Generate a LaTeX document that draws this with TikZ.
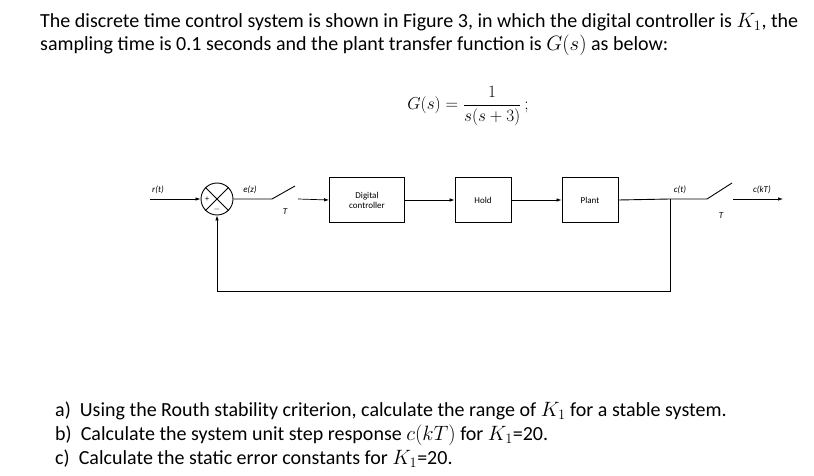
\documentclass[tikz,border=0pt]{standalone}
\usepackage{amsmath}
\usepackage{fontspec}
\setmainfont{Carlito}
\usetikzlibrary{arrows.meta}
\begin{document}
\begin{tikzpicture}[x=1pt,y=-1pt,
  blk/.style={draw,line width=0.9pt,minimum width=#1,minimum height=45pt,inner sep=0pt,font=\fontsize{9}{10}\selectfont,align=center},
  lab/.style={font=\fontsize{9}{10}\selectfont\itshape},
  arr/.style={-{Latex[length=5pt,width=3.5pt]},line width=0.7pt},
  ln/.style={line width=0.9pt},
  txt/.style={anchor=west,inner sep=0pt,font=\fontsize{20}{24}\selectfont}]
\useasboundingbox (0,0) rectangle (814,476);
\node[txt] (p1) at (40,22) {The discrete time control system is shown in Figure 3, in which the digital controller is $K_1$, the};
\node[txt] (p2) at (40,45) {sampling time is 0.1 seconds and the plant transfer function is $G(s)$ as below:};
\node[font=\fontsize{16.5}{18}\selectfont] (eq) at (468,106) {$G(s)=\dfrac{1}{s(s+3)}\,;$};
% diagram
\coordinate (rin) at (150,199);
\node[draw,circle,minimum size=32pt,inner sep=0pt,line width=0.9pt] (sum) at (217,199) {};
\draw[line width=0.8pt] (sum.north west) -- (sum.south east) (sum.north east) -- (sum.south west);
\node[font=\fontsize{8}{9}\selectfont] at (207,199) {+};
\node[font=\fontsize{8}{9}\selectfont] at (217,209) {$-$};
\node[blk=75pt] (dc) at (367,200) {Digital\\controller};
\node[blk=56pt] (hold) at (483,200) {Hold};
\node[blk=56pt] (plant) at (590,200) {Plant};
\coordinate (s1a) at (272,199); \coordinate (s1b) at (295,186);
\coordinate (s1c) at (298,199);
\coordinate (br) at (670,199);
\coordinate (s2a) at (707,199); \coordinate (s2b) at (732,183);
\coordinate (s2c) at (733,199); \coordinate (out) at (783,199);
\coordinate (fb1) at (670,291); \coordinate (fb2) at (217,291);
\draw[arr] (rin) -- (sum.west);
\draw[ln] (sum.east) -- (s1a) -- (s1b);
\draw[arr] (s1c) -- (dc.west);
\draw[arr] (dc.east) -- (hold.west);
\draw[arr] (hold.east) -- (plant.west);
\draw[ln] (plant.east) -- (br) -- (s2a) -- (s2b);
\draw[arr] (s2c) -- (out);
\draw[ln] (br) -- (fb1) -- (fb2);
\draw[arr] (fb2) -- (sum.south);
\node[lab] at (158,190) {r(t)};
\node[lab] at (250,190) {e(z)};
\node[lab] at (285,212) {T};
\node[lab] at (680,190) {c(t)};
\node[lab] at (721,216) {T};
\node[lab] at (762,190) {c(kT)};
\node[txt] (qa) at (55,411) {a)\ \ Using the Routh stability criterion, calculate the range of $K_1$ for a stable system.};
\node[txt] (qb) at (55,435) {b)\ \ Calculate the system unit step response $c(kT)$ for $K_1$=20.};
\node[txt] (qc) at (55,459) {c)\ \ Calculate the static error constants for $K_1$=20.};
\end{tikzpicture}
\end{document}
